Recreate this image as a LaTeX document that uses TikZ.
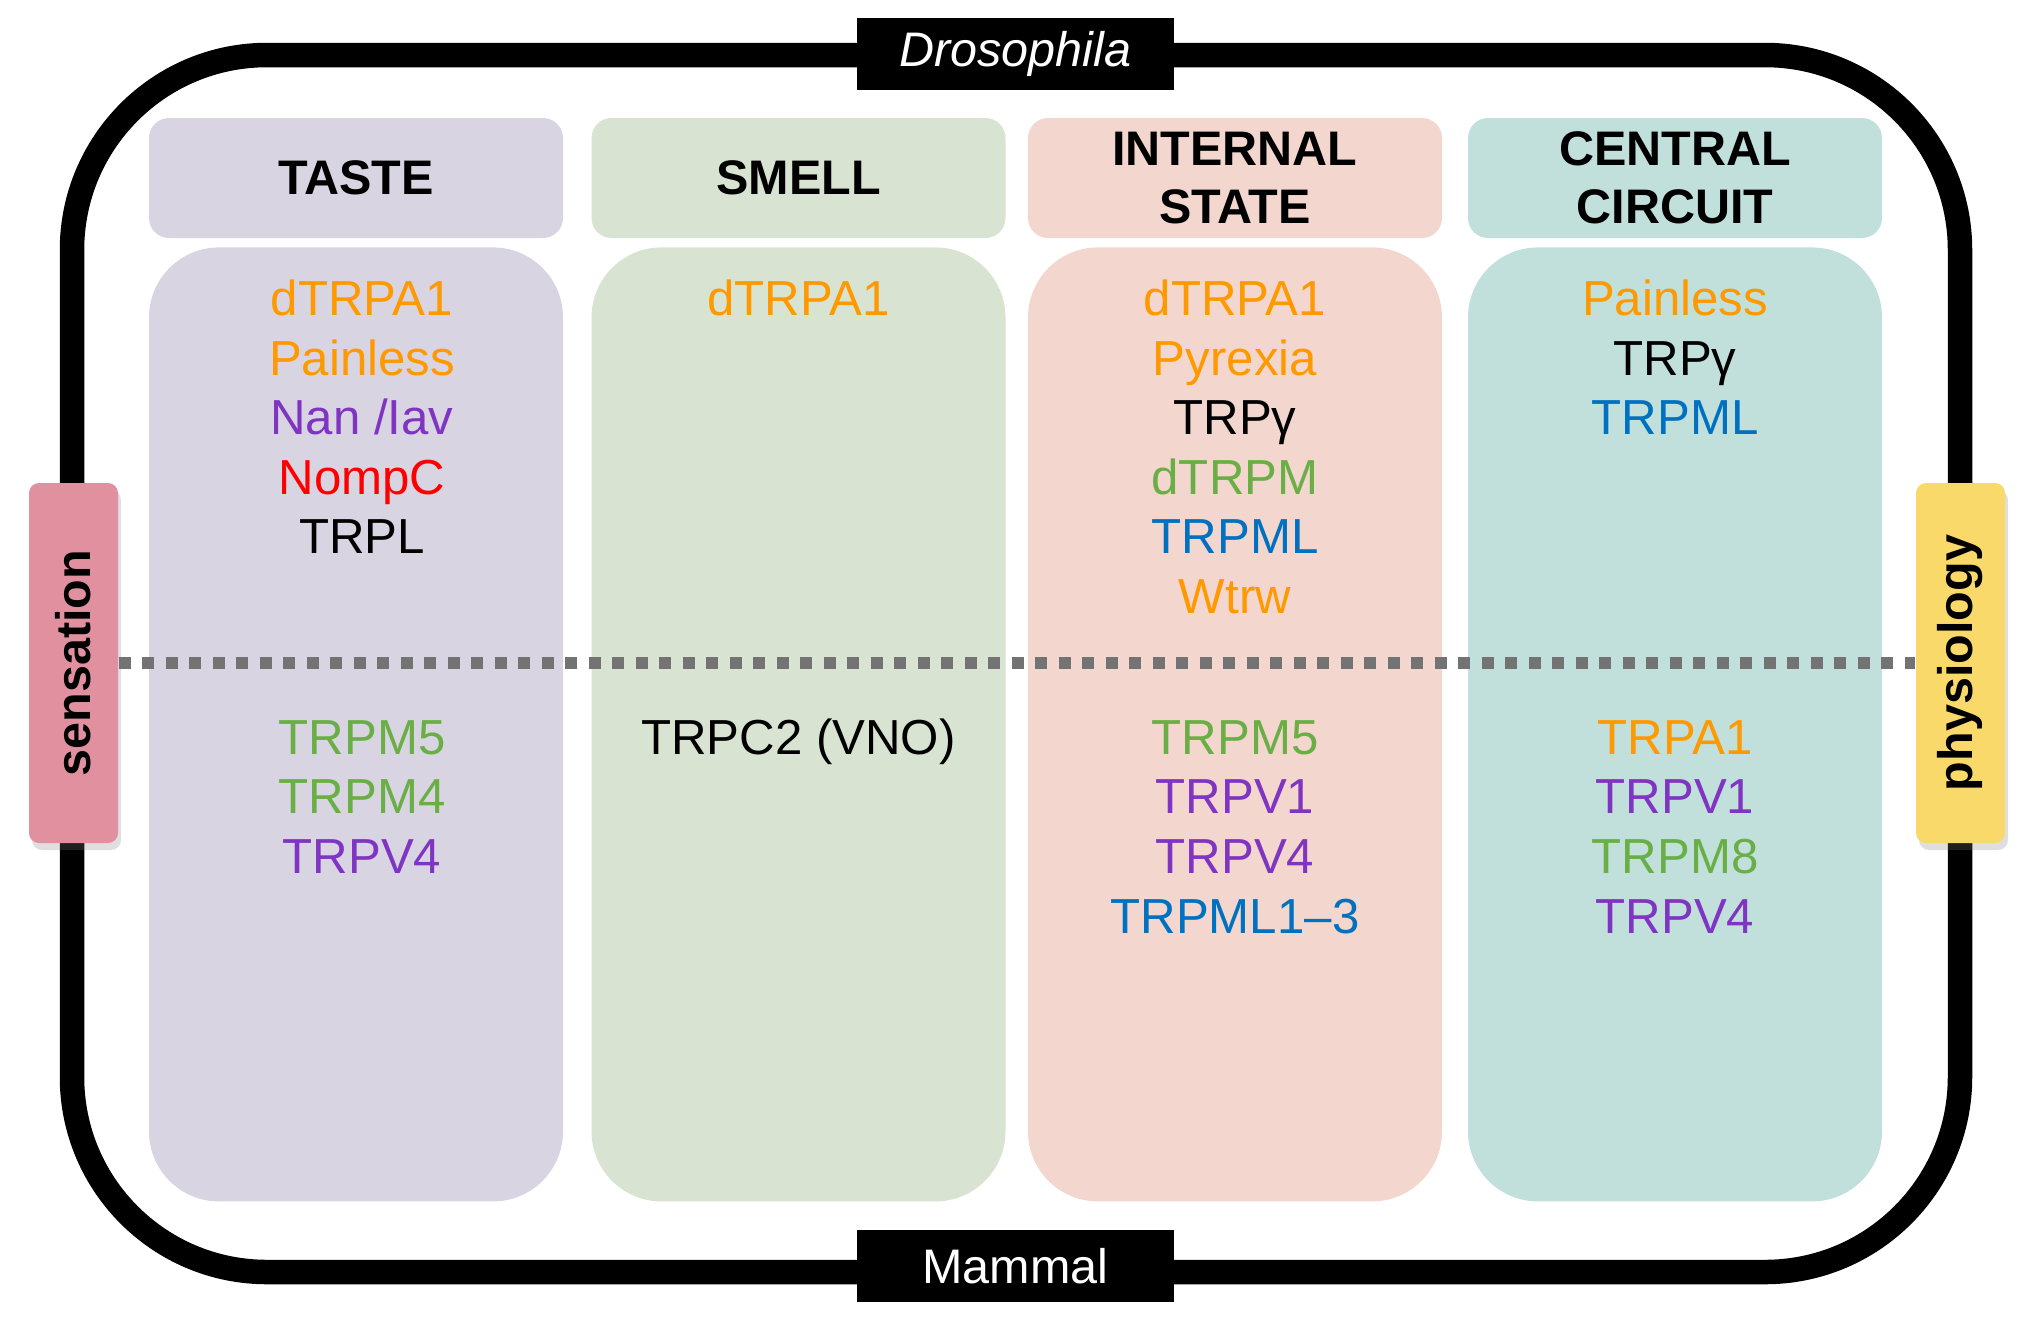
\documentclass[tikz,border=0pt]{standalone}
\usepackage{fontspec}
\setmainfont{Liberation Sans}
\usepackage{xcolor}
\definecolor{tastebg}{HTML}{D9D4E2}
\definecolor{smellbg}{HTML}{D8E4D1}
\definecolor{statebg}{HTML}{F3D6CD}
\definecolor{circuitbg}{HTML}{C1E0DC}
\definecolor{sensepink}{HTML}{E0909F}
\definecolor{physioyellow}{HTML}{FAD96B}
\definecolor{trporange}{HTML}{FF9900}
\definecolor{trppurple}{HTML}{7F35C2}
\definecolor{trpred}{HTML}{FF0000}
\definecolor{trpgreen}{HTML}{6AAF45}
\definecolor{trpblue}{HTML}{0070C0}
\definecolor{dotgray}{HTML}{737373}
\usepackage{tikz}
\usetikzlibrary{positioning, shadows}

\begin{document}
\begin{tikzpicture}[x=0.1mm, y=-0.1mm,
    headbox/.style={rounded corners=2mm, minimum width=41.4mm, minimum height=12mm,
      inner sep=0pt, align=center, font=\fontsize{13.8}{16.5}\selectfont\bfseries},
    panelbox/.style={rounded corners=7mm, minimum width=41.4mm, minimum height=95.4mm, inner sep=0pt},
    gene/.style={anchor=base, inner sep=0pt, font=\fontsize{14}{16}\selectfont},
    tagbox/.style={fill=black, text=white, minimum width=31.7mm, minimum height=7.2mm,
      inner sep=0pt, font=\fontsize{13.8}{16}\selectfont},
    sidebox/.style={rotate=90, rounded corners=1mm, minimum width=36mm, minimum height=8.9mm,
      inner sep=0pt, font=\fontsize{13.8}{16}\selectfont\bfseries,
      drop shadow={shadow xshift=0.3mm, shadow yshift=-0.7mm, opacity=0.25}},
    divider/.style={draw=dotgray, line width=1.2mm, dash pattern=on 1.2mm off 1.15mm}]
  \useasboundingbox (0,0) rectangle (2030,1331);
  % outer frame
  \draw[line width=2.45mm, rounded corners=19.5mm] (72,55) rectangle (1960,1272);
  % column headers and panels
  \foreach \n/\x/\t/\f in
    {taste/356/TASTE/tastebg, smell/798.5/SMELL/smellbg,
     state/1235/{INTERNAL\\STATE}/statebg, circuit/1675/{CENTRAL\\CIRCUIT}/circuitbg} {
    \node[headbox, fill=\f] (\n-head) at (\x,178) {\t};
    \node[panelbox, fill=\f, below=0.8mm of \n-head] (\n-panel) {};
  }
  \node[sidebox, fill=sensepink] (sense) at (73.5,663) {sensation};
  \node[sidebox, fill=physioyellow] (physio) at (1960.5,663) {physiology};
  \draw[divider] (sense.south) -- (physio.north);
  % Drosophila genes (above the line)
  \foreach \n/\x/\r/\g/\c in
    {taste-f1/362/0/dTRPA1/trporange, taste-f2/362/1/Painless/trporange,
     taste-f3/362/2/{Nan /Iav}/trppurple, taste-f4/362/3/NompC/trpred,
     taste-f5/362/4/TRPL/black,
     smell-f1/798.5/0/dTRPA1/trporange,
     state-f1/1235/0/dTRPA1/trporange, state-f2/1235/1/Pyrexia/trporange,
     state-f3/1235/2/TRPγ/black, state-f4/1235/3/dTRPM/trpgreen,
     state-f5/1235/4/TRPML/trpblue, state-f6/1235/5/Wtrw/trporange,
     circuit-f1/1675/0/Painless/trporange, circuit-f2/1675/1/TRPγ/black,
     circuit-f3/1675/2/TRPML/trpblue} {
    \node[gene, text=\c] (\n) at (\x, 315.5+59.6*\r) {\g};
  }
  % mammal genes (below the line)
  \foreach \n/\x/\r/\g/\c in
    {taste-m1/362/0/TRPM5/trpgreen, taste-m2/362/1/TRPM4/trpgreen,
     taste-m3/362/2/TRPV4/trppurple,
     smell-m1/798.5/0/TRPC2 (VNO)/black,
     state-m1/1235/0/TRPM5/trpgreen, state-m2/1235/1/TRPV1/trppurple,
     state-m3/1235/2/TRPV4/trppurple, state-m4/1235/3/TRPML1–3/trpblue,
     circuit-m1/1675/0/TRPA1/trporange, circuit-m2/1675/1/TRPV1/trppurple,
     circuit-m3/1675/2/TRPM8/trpgreen, circuit-m4/1675/3/TRPV4/trppurple} {
    \node[gene, text=\c] (\n) at (\x, 754+59.8*\r) {\g};
  }
  \node[tagbox, font=\fontsize{13.8}{16}\selectfont\itshape] (fly) at (1015.5,53.5) {Drosophila};
  \node[tagbox] (mammal) at (1015.5,1266) {Mammal};
\end{tikzpicture}
\end{document}
